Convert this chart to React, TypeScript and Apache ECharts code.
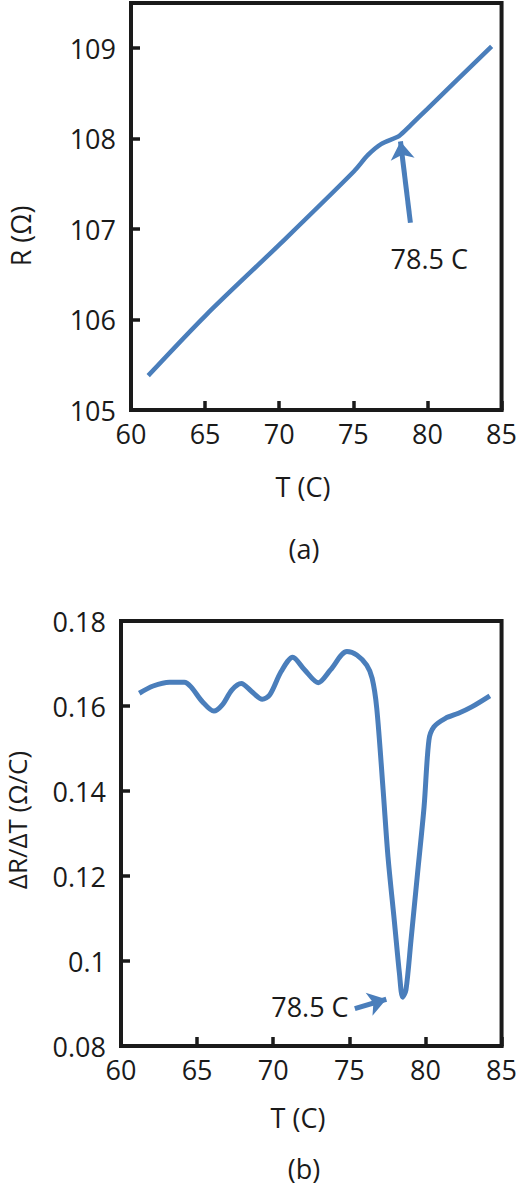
import React, { useEffect, useRef } from "react";
import * as echarts from "echarts";

// Panel (a): R vs T
const tA = [61.16, 65.06, 70.08, 75.05, 75.99, 76.87, 78.0, 78.3, 78.87, 80.0, 82.0, 84.33];
const rA = [105.38, 106.05, 106.84, 107.64, 107.82, 107.94, 108.02, 108.06, 108.15, 108.33, 108.65, 109.02];

// Panel (b): dR/dT vs T
const tB = [
  61.2, 62.11, 63.19, 64.16, 64.6, 65.35, 66.1, 66.64, 67.29, 67.9, 68.58, 69.28, 69.77,
  70.52, 71.28, 72.04, 72.96, 73.76, 74.84, 75.49, 76.14, 76.5, 76.8, 77.22, 77.54, 77.97,
  78.29, 78.5, 78.72, 79.05, 79.48, 79.91, 80.23, 80.56, 81.31, 82.17, 83.04, 84.23,
];
const dB = [
  0.163, 0.1647, 0.1656, 0.1656, 0.1645, 0.161, 0.1588, 0.1602, 0.1638, 0.1653, 0.1634, 0.1616, 0.1626,
  0.1681, 0.1715, 0.1686, 0.1655, 0.1685, 0.1728, 0.172, 0.1696, 0.1665, 0.1595, 0.1402, 0.1245, 0.1089,
  0.0971, 0.0915, 0.0932, 0.1049, 0.1206, 0.1363, 0.152, 0.1551, 0.1571, 0.1583, 0.1598, 0.1624,
];

const xTicks = [60, 85, 5];
const yTicksA = [105, 109.5, 1];
const yTicksB = [0.08, 0.18, 0.02];

// annotations
const arrowA = [[78.85, 107.07], [78.18, 107.97]];
const labelA = [80.12, 106.67];
const arrowB = [[75.36, 0.0888], [77.43, 0.091]];
const labelB = [72.41, 0.0892];
const annText = "78.5 C";

const BLUE = "#4a7ebb";
const INK = "#1a1a1a";
const FONT = "Open Sans";
const FS = 27;

function axisX(gridIndex: number) {
  return {
    type: "value",
    gridIndex,
    min: xTicks[0],
    max: xTicks[1],
    interval: xTicks[2],
    axisLine: { show: true, lineStyle: { color: INK, width: 4 } },
    axisTick: { show: true, inside: true, length: 9, lineStyle: { color: INK, width: 3.5 } },
    axisLabel: { color: INK, fontSize: FS, fontFamily: FONT, margin: 10 },
    splitLine: { show: false },
  };
}

function axisY(gridIndex: number, t: number[], showMax: boolean) {
  return {
    type: "value",
    gridIndex,
    min: t[0],
    max: t[1],
    interval: t[2],
    axisLine: { show: true, lineStyle: { color: INK, width: 4 } },
    axisTick: { show: true, inside: true, length: 9, lineStyle: { color: INK, width: 3.5 } },
    axisLabel: { color: INK, fontSize: FS, fontFamily: FONT, margin: 15, showMaxLabel: showMax },
    splitLine: { show: false },
  };
}

function textEl(text: string, x: number, y: number, rot = 0, fs = FS) {
  return {
    type: "text",
    x,
    y,
    rotation: rot,
    style: {
      text,
      fill: INK,
      font: `${fs}px "${FONT}"`,
      textAlign: "center",
      textVerticalAlign: "middle",
    },
  };
}

function arrowMark(a: number[][]) {
  return {
    silent: true,
    symbol: ["none", "arrow"],
    symbolSize: 18,
    lineStyle: { color: BLUE, width: 5, type: "solid" },
    itemStyle: { color: BLUE },
    label: { show: false },
    data: [[{ coord: a[0] }, { coord: a[1] }]],
  };
}

function labelMark(c: number[]) {
  return {
    silent: true,
    data: [
      {
        coord: c,
        symbol: "circle",
        symbolSize: 1,
        itemStyle: { color: "rgba(0,0,0,0)" },
        label: { show: true, position: "inside", formatter: annText, color: INK, fontSize: FS, fontFamily: FONT },
      },
    ],
  };
}

export default function App() {
  const ref = useRef<HTMLDivElement>(null);
  useEffect(() => {
    if (!ref.current) return;
    const chart = echarts.init(ref.current, undefined, { renderer: "svg" });
    const option = {
      animation: false,
      backgroundColor: "#ffffff",
      grid: [
        { left: 131, top: 3, width: 374, height: 407, show: true, borderColor: INK, borderWidth: 4, backgroundColor: "transparent" },
        { left: 121, top: 621, width: 385, height: 425, show: true, borderColor: INK, borderWidth: 4, backgroundColor: "transparent" },
      ],
      xAxis: [axisX(0), axisX(1)],
      yAxis: [axisY(0, yTicksA, false), axisY(1, yTicksB, true)],
      series: [
        {
          type: "line",
          xAxisIndex: 0,
          yAxisIndex: 0,
          data: tA.map((t, i) => [t, rA[i]]),
          showSymbol: false,
          smooth: 0.3,
          lineStyle: { color: BLUE, width: 4.5 },
          markLine: arrowMark(arrowA),
          markPoint: labelMark(labelA),
        },
        {
          type: "line",
          xAxisIndex: 1,
          yAxisIndex: 1,
          data: tB.map((t, i) => [t, dB[i]]),
          showSymbol: false,
          smooth: 0.3,
          lineStyle: { color: BLUE, width: 5 },
          markLine: arrowMark(arrowB),
          markPoint: labelMark(labelB),
        },
      ],
      graphic: [
        textEl("R (Ω)", 20, 236, Math.PI / 2),
        textEl("T (C)", 303, 486),
        textEl("(a)", 304, 548),
        textEl("ΔR/ΔT (Ω/C)", 17, 820, Math.PI / 2, 26),
        textEl("T (C)", 298, 1117),
        textEl("(b)", 304, 1168),
      ],
    };
    chart.setOption(option as any);
    return () => chart.dispose();
  }, []);
  return (
    <div
      ref={ref}
      style={{ position: "fixed", left: 0, top: 0, width: 520, height: 1186, background: "#fff" }}
    />
  );
}
